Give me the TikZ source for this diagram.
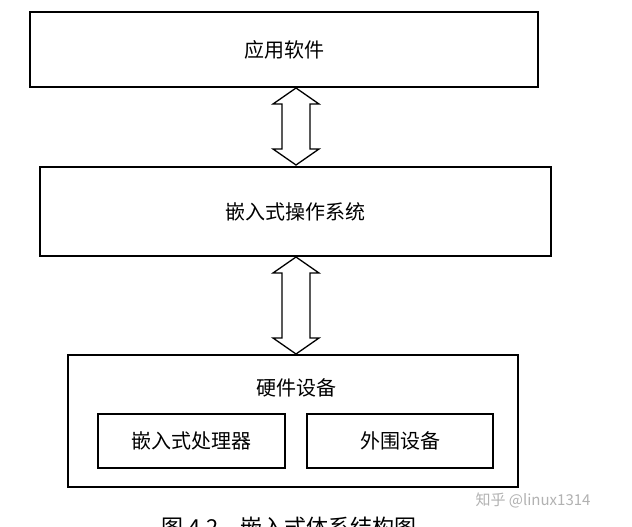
\documentclass[tikz,border=0pt]{standalone}
\usepackage{fontspec}
\newfontfamily\cjk{Noto Sans CJK SC}
\usetikzlibrary{positioning}
\tikzset{layer/.style={draw,line width=1.3pt,inner sep=0pt,font=\cjk\fontsize{20}{20}\selectfont}}
% double arrow: x centre, top y, bottom y
\newcommand{\dblarrow}[3]{%
  \draw[line width=1.3pt,fill=white] (#1,#2) -- (#1+23,#2+16) -- (#1+14,#2+16) -- (#1+14,#3-16)
    -- (#1+23,#3-16) -- (#1,#3) -- (#1-23,#3-16) -- (#1-14,#3-16) -- (#1-14,#2+16)
    -- (#1-23,#2+16) -- cycle;}
\begin{document}
\begin{tikzpicture}[x=1pt,y=-1pt]
      \useasboundingbox[fill=white] (0,0) rectangle (632,527);

      % layers
      \node[layer,minimum width=508,minimum height=75] (app) at (284,49.5) {应用软件};
      \node[layer,minimum width=511,minimum height=89] (os) at (295.5,211.5) {嵌入式操作系统};
      \node[layer,minimum width=450,minimum height=132] (hw) at (293,421) {};
      \node[font=\cjk\fontsize{20}{20}\selectfont] (hwt) at (296,388) {硬件设备};
      \node[layer,minimum width=187,minimum height=54] (cpu) at (191.5,441) {嵌入式处理器};
      \node[layer,minimum width=186,minimum height=54] (dev) at (400,441) {外围设备};

      % arrows
      \dblarrow{296}{88}{165}
      \dblarrow{296}{257}{354}

      % caption
      \node[font=\cjk\fontsize{22}{22}\selectfont,anchor=west] (cap) at (158,527) {图 4.2\quad 嵌入式体系结构图};
      \node[font=\cjk\fontsize{15}{15}\selectfont,text=black!30,anchor=west] (wm) at (472,500) {知乎 @linux1314};
\end{tikzpicture}
\end{document}
